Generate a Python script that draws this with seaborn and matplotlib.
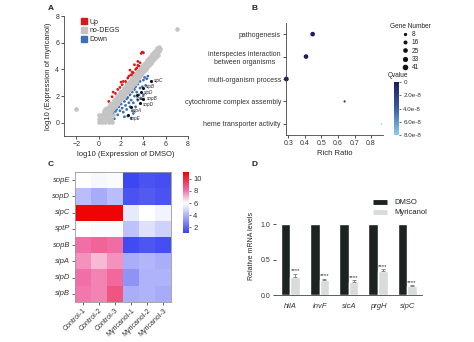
import numpy as np
import pandas as pd
import matplotlib
matplotlib.use("Agg")
import matplotlib.pyplot as plt
import seaborn as sns
from matplotlib.colors import LinearSegmentedColormap, Normalize
from matplotlib.lines import Line2D

# ---------------- Panel A data ----------------
grey_x = [0.4,0.55,0.7,0.85,1.0,1.15,1.3,1.45,1.6,1.75,1.9,2.05,2.2,2.35,2.5,2.65,2.8,2.95,3.1,3.25,3.4,3.55,3.7,3.85,4.0,4.15,4.3,4.45,4.6,4.75,4.9,5.05,5.2,5.35,5.5,
          0.3,0.45,0.6,0.75,0.9,1.05,1.2,1.35,1.5,1.65,1.8,1.95,2.1,2.25,2.4,2.55,2.7,2.85,3.0,3.15,3.3,3.45,3.6,3.75,3.9,4.05,4.2,4.35,4.5,4.65,4.8,4.95,5.1,5.25,5.4,
          0.6,0.75,0.9,1.05,1.2,1.35,1.5,1.65,1.8,1.95,2.1,2.25,2.4,2.55,2.7,2.85,3.0,3.15,3.3,3.45,3.6,3.75,3.9,4.05,4.2,4.35,4.5,4.65,4.8,4.95,5.1,5.3,
          0.0,0.3,0.6,0.9,1.2,0.0,0.4,0.8,1.1,0.0,0.35,0.7,1.0,1.3,0.5,0.8,1.1,1.25,0.9,0.6,-2.0,7.0]
grey_y = [0.45,0.62,0.74,0.9,1.07,1.2,1.36,1.5,1.66,1.8,1.97,2.1,2.27,2.4,2.56,2.7,2.87,3.0,3.16,3.3,3.47,3.6,3.76,3.9,4.07,4.2,4.36,4.5,4.66,4.8,4.96,5.1,5.25,5.4,5.55,
          0.62,0.78,0.92,1.08,1.22,1.38,1.52,1.68,1.82,1.98,2.12,2.28,2.42,2.58,2.72,2.88,3.02,3.18,3.32,3.48,3.62,3.78,3.92,4.08,4.22,4.38,4.52,4.68,4.82,4.98,5.12,5.28,5.42,5.58,5.7,
          0.45,0.55,0.72,0.86,1.0,1.15,1.28,1.44,1.6,1.73,1.88,2.03,2.2,2.33,2.48,2.63,2.8,2.93,3.08,3.25,3.4,3.55,3.7,3.85,4.0,4.15,4.3,4.45,4.6,4.76,4.9,5.1,
          0.05,0.05,0.05,0.05,0.05,0.3,0.3,0.3,0.3,0.6,0.6,0.6,0.6,0.6,0.85,0.85,0.85,1.1,1.1,1.05,1.0,7.0]
up_x = [0.9,1.2,1.3,1.5,1.7,1.9,2.0,2.1,2.2,2.4,2.6,2.7,2.8,2.9,3.0,3.1,3.2,3.3,3.4,3.5,3.5,3.6,3.7,3.8,3.9,4.0,2.5,3.0]
up_y = [1.6,1.95,2.3,2.2,2.5,2.65,3.05,2.85,3.1,3.1,3.35,3.5,3.95,3.6,3.8,3.75,4.35,4.0,4.1,4.3,4.6,4.25,4.5,5.2,5.3,5.25,2.95,3.55]
down_x = [1.3,1.5,1.6,1.7,1.8,1.9,2.0,2.1,2.2,2.3,2.4,2.5,2.5,2.6,2.7,2.8,2.8,2.9,3.0,3.0,3.1,3.2,3.2,3.3,3.3,3.4,3.5,3.5,3.6,3.7,3.7,3.8,3.9,4.0,4.0,4.1,4.2,4.3,4.4,2.6,2.9,3.1,2.3,1.4]
down_y = [0.7,0.85,1.0,0.6,1.2,0.9,1.4,1.1,0.8,1.6,1.3,1.0,1.8,1.9,1.5,1.2,2.1,1.7,2.3,0.9,1.5,2.0,2.5,1.2,2.7,2.3,1.7,2.9,2.1,2.6,3.1,1.8,2.7,3.2,2.1,3.4,2.8,3.3,3.5,0.5,0.35,0.7,0.45,0.3]
key_genes = ["sipC", "sipB", "sipD", "sptP", "sopB", "sopD", "sipA", "sopE"]
key_x = [4.7, 4.0, 3.8, 3.4, 4.0, 3.7, 2.9, 2.6]
key_y = [3.1, 2.6, 2.3, 2.1, 1.8, 1.5, 1.2, 0.6]

# ---------------- Panel B data ----------------
go_terms = ["pathogenesis", "interspecies interaction\nbetween organisms", "multi-organism process",
            "cytochrome complex assembly", "heme transporter activity"]
rich_ratio = [0.447, 0.407, 0.288, 0.64, 0.862]
gene_number = [38, 38, 41, 8, 4]
qvalue = [0.0, 0.0, 0.0, 0.5e-8, 8.0e-8]
size_levels = [8, 16, 25, 33, 41]

# ---------------- Panel C data ----------------
hm_genes = ["sopE", "sopD", "sipC", "sptP", "sopB", "sipA", "sipD", "sipB"]
hm_samples = ["Control-1", "Control-2", "Control-3", "Myricanol-1", "Myricanol-2", "Myricanol-3"]
hm_values = [
    [6.0, 5.8, 5.9, 1.2, 1.5, 1.4],
    [4.3, 3.8, 4.3, 1.5, 1.7, 1.5],
    [11.0, 11.0, 11.0, 5.4, 6.0, 5.7],
    [6.0, 5.9, 5.9, 4.4, 5.2, 4.8],
    [8.1, 8.4, 8.2, 1.3, 1.6, 1.4],
    [7.6, 7.0, 7.6, 3.9, 4.1, 3.9],
    [8.1, 7.8, 8.3, 3.2, 4.0, 4.0],
    [8.0, 7.8, 8.8, 3.9, 4.0, 3.8],
]

# ---------------- Panel D data ----------------
qpcr_genes = ["hilA", "invF", "sicA", "prgH", "sipC"]
dmso_vals = [1.0, 1.0, 1.0, 1.0, 1.0]
myr_vals = [0.25, 0.21, 0.185, 0.335, 0.13]
myr_err = [0.055, 0.02, 0.03, 0.035, 0.01]

# ---------------- Figure ----------------
sns.set_style("ticks")
plt.rcParams["font.family"] = ["Liberation Sans", "DejaVu Sans"]
plt.rcParams["axes.linewidth"] = 0.6
plt.rcParams["xtick.major.width"] = 0.6
plt.rcParams["ytick.major.width"] = 0.6
plt.rcParams["xtick.major.size"] = 2
plt.rcParams["ytick.major.size"] = 2
plt.rcParams["xtick.major.pad"] = 1.5
plt.rcParams["ytick.major.pad"] = 1.5
plt.rcParams["text.color"] = "#222222"
plt.rcParams["xtick.color"] = "#333333"
plt.rcParams["ytick.color"] = "#333333"
plt.rcParams["axes.edgecolor"] = "#444444"

fig = plt.figure(figsize=(4.74, 3.42), dpi=100)
fs = 5

# Panel A
ax_a = fig.add_axes([0.135, 0.602, 0.262, 0.351])
df_a = pd.concat([
    pd.DataFrame({"x": grey_x, "y": grey_y, "g": "no-DEGS"}),
    pd.DataFrame({"x": up_x, "y": up_y, "g": "Up"}),
    pd.DataFrame({"x": down_x, "y": down_y, "g": "Down"}),
], ignore_index=True)
pal_a = {"Up": "#d7191c", "no-DEGS": "#c4c4c4", "Down": "#3d6fb6"}
sns.scatterplot(data=df_a[df_a.g != "no-DEGS"], x="x", y="y", hue="g", palette=pal_a, s=4,
                linewidth=0, ax=ax_a, legend=False)
sns.scatterplot(data=df_a[df_a.g == "no-DEGS"], x="x", y="y", color=pal_a["no-DEGS"], s=11,
                linewidth=0, ax=ax_a, legend=False)
sns.scatterplot(x=key_x, y=key_y, color="#111111", s=5, linewidth=0, ax=ax_a, legend=False)
label_off = {"sipC": (0.25, 0.1), "sipB": (0.25, 0.15), "sipD": (0.25, 0.0), "sptP": (-0.1, -0.3),
             "sopB": (0.3, 0.0), "sopD": (0.25, -0.15), "sipA": (0.2, -0.25), "sopE": (0.2, -0.25)}
for gx, gy, gname in zip(key_x, key_y, key_genes):
    dx, dy = label_off[gname]
    ax_a.text(gx + dx, gy + dy, gname, fontsize=3.3, style="italic", va="center", color="#222222")
ax_a.set_xlim(-3.1, 8)
ax_a.set_ylim(-1, 8)
ax_a.set_xticks([-2, 0, 2, 4, 6, 8])
ax_a.set_yticks([0, 2, 4, 6, 8])
ax_a.tick_params(labelsize=fs)
ax_a.set_xlabel("log10 (Expression of DMSO)", fontsize=fs + 0.5, labelpad=2)
ax_a.set_ylabel("log10 (Expression of myricanol)", fontsize=fs + 0.5, labelpad=2)
sns.despine(ax=ax_a)
handles_a = [Line2D([], [], marker="s", ls="", color=pal_a[k], markersize=4) for k in ["Up", "no-DEGS", "Down"]]
ax_a.legend(handles_a, ["Up", "no-DEGS", "Down"], loc="upper left", bbox_to_anchor=(0.1, 1.02),
            fontsize=fs, frameon=False, handlelength=0.8, handletextpad=0.4, labelspacing=0.25, borderpad=0.2)

# Panel B
ax_b = fig.add_axes([0.603, 0.605, 0.205, 0.328])
cmap_q = LinearSegmentedColormap.from_list("q", ["#1b1e5c", "#3a5f9e", "#88d0f0"])
norm_q = Normalize(0, 8e-8)
df_b = pd.DataFrame({"term": go_terms, "ratio": rich_ratio, "n": gene_number, "q": qvalue})
sns.scatterplot(data=df_b, x="ratio", y="term", hue="q", palette=cmap_q, hue_norm=norm_q,
                size="n", sizes=(0, 12), size_norm=(0, 41), linewidth=0, ax=ax_b, legend=False,
                clip_on=False)
ax_b.set_xlim(0.285, 0.872)
ax_b.set_ylim(4.5, -0.5)
ax_b.set_xticks([0.3, 0.4, 0.5, 0.6, 0.7, 0.8])
ax_b.tick_params(labelsize=fs)
ax_b.set_xlabel("Rich Ratio", fontsize=fs + 0.5, labelpad=2)
ax_b.set_ylabel("")
for lbl in ax_b.get_yticklabels():
    lbl.set_multialignment("center")
sns.despine(ax=ax_b)
handles_b = [Line2D([], [], marker="o", ls="", color="#111111", markersize=np.sqrt(v / 4.5)) for v in size_levels]
fig.legend(handles_b, [str(v) for v in size_levels], title="Gene Number", loc="upper left",
           bbox_to_anchor=(0.815, 0.945), fontsize=fs - 0.3, title_fontsize=fs - 0.3, frameon=False,
           handlelength=0.8, handletextpad=0.6, labelspacing=0.2, borderpad=0.1)
cax_b = fig.add_axes([0.831, 0.605, 0.011, 0.155])
cb_b = fig.colorbar(plt.cm.ScalarMappable(norm=norm_q, cmap=cmap_q), cax=cax_b)
cb_b.set_ticks([0, 2e-8, 4e-8, 6e-8, 8e-8])
cb_b.set_ticklabels(["0", "2.0e-8", "4.0e-8", "6.0e-8", "8.0e-8"])
cb_b.ax.invert_yaxis()
cb_b.outline.set_visible(False)
cb_b.ax.tick_params(labelsize=fs - 0.5, length=1.5, width=0.5)
fig.text(0.818, 0.768, "Qvalue", fontsize=fs - 0.3, ha="left", va="bottom")

# Panel C
ax_c = fig.add_axes([0.158, 0.117, 0.203, 0.38])
cax_c = fig.add_axes([0.386, 0.319, 0.013, 0.178])
cmap_h = LinearSegmentedColormap.from_list(
    "h", [(0.0, "#3a44f0"), (0.49, "#ffffff"), (0.7, "#f070a8"), (1.0, "#f00000")])
df_c = pd.DataFrame(hm_values, index=hm_genes, columns=hm_samples)
sns.heatmap(df_c, cmap=cmap_h, vmin=1.1, vmax=11.1, ax=ax_c, cbar_ax=cax_c, linewidths=0,
            xticklabels=True, yticklabels=True)
for sp in ax_c.spines.values():
    sp.set_visible(True)
    sp.set_color("#999999")
    sp.set_linewidth(0.6)
ax_c.tick_params(axis="both", length=2, width=0.5, labelsize=fs + 0.5)
ax_c.set_yticklabels(hm_genes, rotation=0, style="italic")
ax_c.set_xticklabels(hm_samples, rotation=45, ha="right", rotation_mode="anchor", fontsize=fs)
ax_c.set_xlabel("")
ax_c.set_ylabel("")
cax_c.tick_params(labelsize=fs + 0.5, length=1.5, width=0.5)
cax_c.set_yticks([2, 4, 6, 8, 10])

# Panel D
ax_d = fig.add_axes([0.582, 0.137, 0.308, 0.29])
df_d = pd.concat([
    pd.DataFrame({"gene": qpcr_genes, "val": dmso_vals, "grp": "DMSO"}),
    pd.DataFrame({"gene": qpcr_genes, "val": myr_vals, "grp": "Myricanol"}),
], ignore_index=True)
pal_d = {"DMSO": "#1d2321", "Myricanol": "#d8dbda"}
sns.barplot(data=df_d, x="gene", y="val", hue="grp", palette=pal_d, width=0.66, errorbar=None,
            ax=ax_d, legend=False, saturation=1)
xs = np.arange(len(qpcr_genes)) + 0.165
ax_d.errorbar(xs, myr_vals, yerr=[np.zeros(len(myr_vals)), myr_err], fmt="none",
              ecolor="#777777", elinewidth=0.6, capsize=1.5, capthick=0.6)
for x0, v, e in zip(xs, myr_vals, myr_err):
    ax_d.text(x0, v + e + 0.005, "****", fontsize=4.5, ha="center", va="bottom", color="#333333")
ax_d.set_xlim(-0.5, 4.5)
ax_d.set_ylim(0, 1.4)
ax_d.set_yticks([0.0, 0.5, 1.0])
ax_d.set_yticklabels(["0.0", "0.5", "1.0"])
ax_d.tick_params(axis="y", labelsize=fs, length=2.5)
ax_d.tick_params(axis="x", labelsize=fs + 0.5, length=0, pad=6)
for lbl in ax_d.get_xticklabels():
    lbl.set_style("italic")
ax_d.set_xlabel("")
ax_d.set_ylabel("Relative mRNA levels", fontsize=fs, labelpad=4)
sns.despine(ax=ax_d, left=True)
handles_d = [Line2D([], [], color=pal_d[k], lw=3.5, solid_capstyle="butt") for k in ["DMSO", "Myricanol"]]
fig.legend(handles_d, ["DMSO", "Myricanol"], loc="upper left", bbox_to_anchor=(0.778, 0.432),
           fontsize=fs + 0.5, frameon=False, handlelength=1.8, handletextpad=0.9, labelspacing=0.35,
           borderpad=0.1)

# Panel labels
for lab, px, py in [("A", 0.100, 0.975), ("B", 0.530, 0.975), ("C", 0.100, 0.520), ("D", 0.530, 0.520)]:
    fig.text(px, py, lab, fontsize=6, fontweight="bold", ha="left", va="center", color="#222222")

fig.savefig("out.png", dpi=100)
